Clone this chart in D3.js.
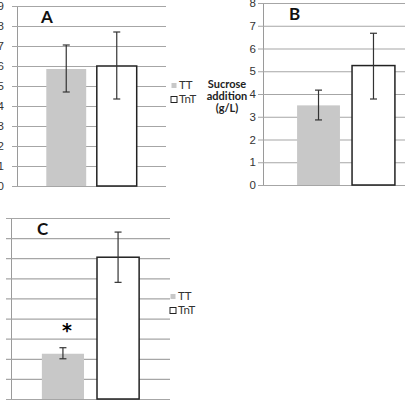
<!DOCTYPE html>
<html>
<head>
<meta charset="utf-8">
<script src="https://cdn.jsdelivr.net/npm/d3@7"></script>
<style>
  body { margin: 0; background: #fff; }
  svg { display: block; font-family: Lato, "Open Sans", sans-serif; }
</style>
</head>
<body>
<div id="chart"></div>
<script>
// groups shown in every panel
const groups = ["TT", "TnT"];
const yTicks = [0, 1, 2, 3, 4, 5, 6, 7, 8, 9];
const yTicksB = [0, 1, 2, 3, 4, 5, 6, 7, 8];

// panel A
const meansA = [5.85, 6.0];
const hiA = [7.05, 7.7];
const loA = [4.7, 4.35];
// panel B
const meansB = [3.5, 5.25];
const hiB = [4.17, 6.67];
const loB = [2.86, 3.78];
// panel C
const meansC = [2.25, 7.05];
const hiC = [2.55, 8.3];
const loC = [2.0, 5.8];

const fills = ["#c8c8c8", "#ffffff"];
const strokes = ["none", "#222"];

const svg = d3.select("#chart").append("svg")
  .attr("width", 405).attr("height", 405);

//draws one bar panel
function panel(opt) {
  const x = d3.scaleBand().domain(groups)
    .range(opt.xr).paddingInner(opt.pi).paddingOuter(opt.po);
  const y = d3.scaleLinear().domain([0, opt.max]).range(opt.yr);
  const g = svg.append("g");

  const ax = g.append("g")
    .attr("transform", `translate(${opt.xr[0]},0)`)
    .call(d3.axisLeft(y).tickValues(opt.ticks)
      .tickFormat(opt.labels ? d3.format("d") : () => "")
      .tickSizeInner(-(opt.xr[1] - opt.xr[0])).tickSizeOuter(0).tickPadding(opt.pad));
  ax.select(".domain").attr("stroke", "#9a9a9a").attr("stroke-width", 1);
  // gridlines stick out a little to the left, like excel's outside ticks
  ax.selectAll(".tick line").attr("x1", -5).attr("stroke", "#a6a6a6").attr("stroke-width", 1.2);
  ax.selectAll(".tick text").attr("fill", "#333").style("font-size", "11.5px");

  const data = groups.map((k, i) => ({ k, i, m: opt.means[i], hi: opt.hi[i], lo: opt.lo[i] }));

  g.selectAll(".bar").data(data).enter().append("rect")
    .attr("x", d => x(d.k))
    .attr("y", d => y(d.m))
    .attr("width", x.bandwidth())
    .attr("height", d => y(0) - y(d.m))
    .attr("fill", d => fills[d.i])
    .attr("stroke", d => strokes[d.i])
    .attr("stroke-width", 1.5);

  // error bars
  const cx = d => x(d.k) + x.bandwidth() / 2;
  const eb = g.selectAll(".err").data(data).enter().append("g").attr("stroke", "#333").attr("stroke-width", 1.2);
  eb.append("line").attr("x1", cx).attr("x2", cx).attr("y1", d => y(d.hi)).attr("y2", d => y(d.lo));
  eb.append("line").attr("x1", d => cx(d) - 3.5).attr("x2", d => cx(d) + 3.5).attr("y1", d => y(d.hi)).attr("y2", d => y(d.hi));
  eb.append("line").attr("x1", d => cx(d) - 3.5).attr("x2", d => cx(d) + 3.5).attr("y1", d => y(d.lo)).attr("y2", d => y(d.lo));

  // panel letter
  g.append("text").attr("x", opt.letterX).attr("y", opt.yr[1] + 17)
    .style("font-size", "17px").style("font-weight", "bold").attr("fill", "#111")
    .text(opt.letter);

  if (opt.legendX != null) {
    const lg = g.selectAll(".lg").data(groups).enter().append("g")
      .attr("transform", (d, i) => `translate(${opt.legendX},${opt.legendY + i * 14})`);
    lg.append("rect").attr("x", (d, i) => i ? 0 : 0.5).attr("y", (d, i) => i ? -6.5 : -6)
      .attr("width", (d, i) => i ? 6 : 5).attr("height", (d, i) => i ? 6 : 5)
      .attr("fill", (d, i) => fills[i]).attr("stroke", (d, i) => i ? "#222" : "none").attr("stroke-width", 1);
    lg.append("text").attr("x", 8).attr("y", 0).style("font-size", "11.5px").attr("fill", "#333").text(d => d);
  }
  return { x, y, g };
}

panel({ means: meansA, hi: hiA, lo: loA, max: 9, ticks: yTicks, labels: true,
  xr: [17, 166], yr: [186, 6], pi: 0.21, po: 0.58, pad: 13,
  letter: "A", letterX: 41, legendX: 171, legendY: 89 });

panel({ means: meansB, hi: hiB, lo: loB, max: 8, ticks: yTicksB, labels: true,
  xr: [263, 429], yr: [185, 3], pi: 0.22, po: 0.62, pad: 7,
  letter: "B", letterX: 289 });

const pc = panel({ means: meansC, hi: hiC, lo: loC, max: 9, ticks: yTicks, labels: false,
  xr: [11, 170], yr: [399, 218], pi: 0.236, po: 0.56, pad: 8,
  letter: "C", letterX: 37, legendX: 170, legendY: 300 });

// significance marker
pc.g.append("text").attr("x", pc.x("TT") + pc.x.bandwidth() / 2 + 4).attr("y", 337)
  .attr("text-anchor", "middle").style("font-size", "19px").style("font-weight", "bold")
  .style("font-family", "'DejaVu Sans', sans-serif").text("*");

// y label of panel B
svg.append("text").attr("x", 227).attr("y", 88).attr("text-anchor", "middle")
  .style("font-size", "11px").style("font-weight", "bold").attr("fill", "#222")
  .selectAll("tspan").data(["Sucrose", "addition", "(g/L)"]).enter().append("tspan")
  .attr("x", 227).attr("dy", (d, i) => i ? 12 : 0).text(d => d);
</script>
</body>
</html>
